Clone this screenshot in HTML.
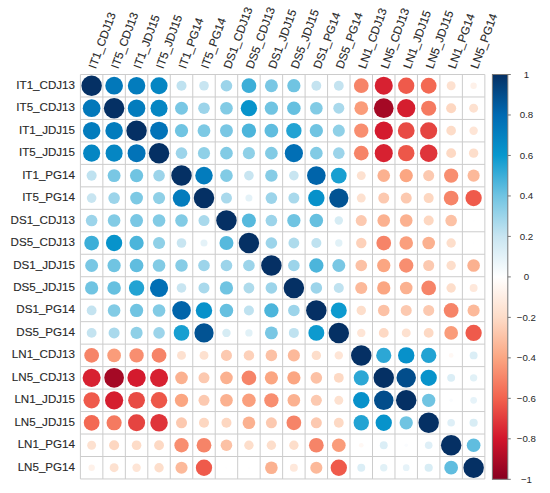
<!DOCTYPE html><html><head><meta charset="utf-8"><style>html,body{margin:0;padding:0;background:#fff;}body{width:550px;height:493px;overflow:hidden;}svg{display:block;}text{font-family:"Liberation Sans",sans-serif;}</style></head><body>
<svg width="550" height="493" viewBox="0 0 550 493">
<rect x="0" y="0" width="550" height="493" fill="#fff"/>
<g stroke="#cccccc" stroke-width="1"><line x1="80.40" y1="74.50" x2="80.40" y2="478.96"/><line x1="80.40" y1="74.50" x2="484.86" y2="74.50"/><line x1="102.87" y1="74.50" x2="102.87" y2="478.96"/><line x1="80.40" y1="96.97" x2="484.86" y2="96.97"/><line x1="125.34" y1="74.50" x2="125.34" y2="478.96"/><line x1="80.40" y1="119.44" x2="484.86" y2="119.44"/><line x1="147.81" y1="74.50" x2="147.81" y2="478.96"/><line x1="80.40" y1="141.91" x2="484.86" y2="141.91"/><line x1="170.28" y1="74.50" x2="170.28" y2="478.96"/><line x1="80.40" y1="164.38" x2="484.86" y2="164.38"/><line x1="192.75" y1="74.50" x2="192.75" y2="478.96"/><line x1="80.40" y1="186.85" x2="484.86" y2="186.85"/><line x1="215.22" y1="74.50" x2="215.22" y2="478.96"/><line x1="80.40" y1="209.32" x2="484.86" y2="209.32"/><line x1="237.69" y1="74.50" x2="237.69" y2="478.96"/><line x1="80.40" y1="231.79" x2="484.86" y2="231.79"/><line x1="260.16" y1="74.50" x2="260.16" y2="478.96"/><line x1="80.40" y1="254.26" x2="484.86" y2="254.26"/><line x1="282.63" y1="74.50" x2="282.63" y2="478.96"/><line x1="80.40" y1="276.73" x2="484.86" y2="276.73"/><line x1="305.10" y1="74.50" x2="305.10" y2="478.96"/><line x1="80.40" y1="299.20" x2="484.86" y2="299.20"/><line x1="327.57" y1="74.50" x2="327.57" y2="478.96"/><line x1="80.40" y1="321.67" x2="484.86" y2="321.67"/><line x1="350.04" y1="74.50" x2="350.04" y2="478.96"/><line x1="80.40" y1="344.14" x2="484.86" y2="344.14"/><line x1="372.51" y1="74.50" x2="372.51" y2="478.96"/><line x1="80.40" y1="366.61" x2="484.86" y2="366.61"/><line x1="394.98" y1="74.50" x2="394.98" y2="478.96"/><line x1="80.40" y1="389.08" x2="484.86" y2="389.08"/><line x1="417.45" y1="74.50" x2="417.45" y2="478.96"/><line x1="80.40" y1="411.55" x2="484.86" y2="411.55"/><line x1="439.92" y1="74.50" x2="439.92" y2="478.96"/><line x1="80.40" y1="434.02" x2="484.86" y2="434.02"/><line x1="462.39" y1="74.50" x2="462.39" y2="478.96"/><line x1="80.40" y1="456.49" x2="484.86" y2="456.49"/><line x1="484.86" y1="74.50" x2="484.86" y2="478.96"/><line x1="80.40" y1="478.96" x2="484.86" y2="478.96"/></g>
<g><circle cx="91.64" cy="85.73" r="10.25" fill="#053064"/><circle cx="114.11" cy="85.73" r="8.87" fill="#0278ba"/><circle cx="136.57" cy="85.73" r="8.76" fill="#037cbd"/><circle cx="159.05" cy="85.73" r="8.52" fill="#0586c3"/><circle cx="181.51" cy="85.73" r="5.02" fill="#bfe2f0"/><circle cx="203.99" cy="85.73" r="4.81" fill="#c8e5f1"/><circle cx="226.46" cy="85.73" r="5.80" fill="#9cd4ea"/><circle cx="248.92" cy="85.73" r="7.37" fill="#3caed8"/><circle cx="271.39" cy="85.73" r="6.47" fill="#79c7e4"/><circle cx="293.87" cy="85.73" r="6.63" fill="#70c4e2"/><circle cx="316.34" cy="85.73" r="4.91" fill="#c4e3f0"/><circle cx="338.80" cy="85.73" r="4.91" fill="#c4e3f0"/><circle cx="361.27" cy="85.73" r="7.37" fill="#f68468"/><circle cx="383.75" cy="85.73" r="9.04" fill="#d72131"/><circle cx="406.22" cy="85.73" r="8.16" fill="#ef5a4b"/><circle cx="428.68" cy="85.73" r="7.90" fill="#f36953"/><circle cx="451.15" cy="85.73" r="4.46" fill="#fde1d0"/><circle cx="473.62" cy="85.73" r="3.19" fill="#fef1e9"/><circle cx="91.64" cy="108.20" r="8.87" fill="#0278ba"/><circle cx="114.11" cy="108.20" r="10.25" fill="#053064"/><circle cx="136.57" cy="108.20" r="8.76" fill="#037cbd"/><circle cx="159.05" cy="108.20" r="8.52" fill="#0586c3"/><circle cx="181.51" cy="108.20" r="6.47" fill="#79c7e4"/><circle cx="203.99" cy="108.20" r="5.80" fill="#9cd4ea"/><circle cx="226.46" cy="108.20" r="6.31" fill="#82cbe5"/><circle cx="248.92" cy="108.20" r="8.16" fill="#0793cb"/><circle cx="271.39" cy="108.20" r="6.63" fill="#70c4e2"/><circle cx="293.87" cy="108.20" r="6.78" fill="#66c0e0"/><circle cx="316.34" cy="108.20" r="6.31" fill="#82cbe5"/><circle cx="338.80" cy="108.20" r="5.52" fill="#a9d9ec"/><circle cx="361.27" cy="108.20" r="6.86" fill="#fa9c7a"/><circle cx="383.75" cy="108.20" r="9.85" fill="#a50925"/><circle cx="406.22" cy="108.20" r="9.10" fill="#d51e2f"/><circle cx="428.68" cy="108.20" r="7.57" fill="#f57a60"/><circle cx="451.15" cy="108.20" r="5.02" fill="#fdd7c1"/><circle cx="473.62" cy="108.20" r="4.46" fill="#fde1d0"/><circle cx="91.64" cy="130.68" r="8.76" fill="#037cbd"/><circle cx="114.11" cy="130.68" r="8.76" fill="#037cbd"/><circle cx="136.57" cy="130.68" r="10.25" fill="#053064"/><circle cx="159.05" cy="130.68" r="8.99" fill="#0273b8"/><circle cx="181.51" cy="130.68" r="6.63" fill="#70c4e2"/><circle cx="203.99" cy="130.68" r="6.39" fill="#7dc9e4"/><circle cx="226.46" cy="130.68" r="6.47" fill="#79c7e4"/><circle cx="248.92" cy="130.68" r="7.15" fill="#4cb5db"/><circle cx="271.39" cy="130.68" r="6.86" fill="#60bddf"/><circle cx="293.87" cy="130.68" r="7.70" fill="#22a3d3"/><circle cx="316.34" cy="130.68" r="6.63" fill="#70c4e2"/><circle cx="338.80" cy="130.68" r="6.06" fill="#8fd0e7"/><circle cx="361.27" cy="130.68" r="7.15" fill="#f88e70"/><circle cx="383.75" cy="130.68" r="9.15" fill="#d41a2e"/><circle cx="406.22" cy="130.68" r="8.40" fill="#e84b44"/><circle cx="428.68" cy="130.68" r="8.52" fill="#e54440"/><circle cx="451.15" cy="130.68" r="4.81" fill="#fddcc8"/><circle cx="473.62" cy="130.68" r="4.21" fill="#fee5d6"/><circle cx="91.64" cy="153.14" r="8.52" fill="#0586c3"/><circle cx="114.11" cy="153.14" r="8.52" fill="#0586c3"/><circle cx="136.57" cy="153.14" r="8.99" fill="#0273b8"/><circle cx="159.05" cy="153.14" r="10.25" fill="#053064"/><circle cx="181.51" cy="153.14" r="5.80" fill="#9cd4ea"/><circle cx="203.99" cy="153.14" r="6.06" fill="#8fd0e7"/><circle cx="226.46" cy="153.14" r="6.31" fill="#82cbe5"/><circle cx="248.92" cy="153.14" r="6.06" fill="#8fd0e7"/><circle cx="271.39" cy="153.14" r="6.31" fill="#82cbe5"/><circle cx="293.87" cy="153.14" r="9.10" fill="#016fb5"/><circle cx="316.34" cy="153.14" r="6.31" fill="#82cbe5"/><circle cx="338.80" cy="153.14" r="5.80" fill="#9cd4ea"/><circle cx="361.27" cy="153.14" r="7.37" fill="#f68468"/><circle cx="383.75" cy="153.14" r="9.04" fill="#d72131"/><circle cx="406.22" cy="153.14" r="8.22" fill="#ed5749"/><circle cx="428.68" cy="153.14" r="8.76" fill="#df343a"/><circle cx="451.15" cy="153.14" r="4.91" fill="#fdd9c4"/><circle cx="473.62" cy="153.14" r="4.69" fill="#fddecb"/><circle cx="91.64" cy="175.62" r="5.02" fill="#bfe2f0"/><circle cx="114.11" cy="175.62" r="6.47" fill="#79c7e4"/><circle cx="136.57" cy="175.62" r="6.63" fill="#70c4e2"/><circle cx="159.05" cy="175.62" r="5.80" fill="#9cd4ea"/><circle cx="181.51" cy="175.62" r="10.25" fill="#053064"/><circle cx="203.99" cy="175.62" r="8.76" fill="#037cbd"/><circle cx="226.46" cy="175.62" r="6.31" fill="#82cbe5"/><circle cx="248.92" cy="175.62" r="4.81" fill="#c8e5f1"/><circle cx="271.39" cy="175.62" r="6.23" fill="#86cce6"/><circle cx="293.87" cy="175.62" r="4.81" fill="#c8e5f1"/><circle cx="316.34" cy="175.62" r="9.32" fill="#0064aa"/><circle cx="338.80" cy="175.62" r="7.84" fill="#189fd1"/><circle cx="361.27" cy="175.62" r="4.46" fill="#fde1d0"/><circle cx="383.75" cy="175.62" r="6.31" fill="#fbb190"/><circle cx="406.22" cy="175.62" r="6.63" fill="#fba682"/><circle cx="428.68" cy="175.62" r="5.52" fill="#fcc9b0"/><circle cx="451.15" cy="175.62" r="7.15" fill="#f88e70"/><circle cx="473.62" cy="175.62" r="6.06" fill="#fcb99a"/><circle cx="91.64" cy="198.08" r="4.81" fill="#c8e5f1"/><circle cx="114.11" cy="198.08" r="5.80" fill="#9cd4ea"/><circle cx="136.57" cy="198.08" r="6.39" fill="#7dc9e4"/><circle cx="159.05" cy="198.08" r="6.06" fill="#8fd0e7"/><circle cx="181.51" cy="198.08" r="8.76" fill="#037cbd"/><circle cx="203.99" cy="198.08" r="10.25" fill="#053064"/><circle cx="226.46" cy="198.08" r="5.52" fill="#a9d9ec"/><circle cx="248.92" cy="198.08" r="3.51" fill="#e4f2f8"/><circle cx="271.39" cy="198.08" r="5.80" fill="#9cd4ea"/><circle cx="293.87" cy="198.08" r="5.52" fill="#a9d9ec"/><circle cx="316.34" cy="198.08" r="8.22" fill="#0791ca"/><circle cx="338.80" cy="198.08" r="9.64" fill="#025393"/><circle cx="361.27" cy="198.08" r="4.46" fill="#fde1d0"/><circle cx="383.75" cy="198.08" r="5.52" fill="#fcc9b0"/><circle cx="406.22" cy="198.08" r="5.52" fill="#fcc9b0"/><circle cx="428.68" cy="198.08" r="5.02" fill="#fdd7c1"/><circle cx="451.15" cy="198.08" r="7.37" fill="#f68468"/><circle cx="473.62" cy="198.08" r="8.16" fill="#ef5a4b"/><circle cx="91.64" cy="220.56" r="5.80" fill="#9cd4ea"/><circle cx="114.11" cy="220.56" r="6.31" fill="#82cbe5"/><circle cx="136.57" cy="220.56" r="6.47" fill="#79c7e4"/><circle cx="159.05" cy="220.56" r="6.31" fill="#82cbe5"/><circle cx="181.51" cy="220.56" r="6.31" fill="#82cbe5"/><circle cx="203.99" cy="220.56" r="5.52" fill="#a9d9ec"/><circle cx="226.46" cy="220.56" r="10.25" fill="#053064"/><circle cx="248.92" cy="220.56" r="7.01" fill="#56b9dd"/><circle cx="271.39" cy="220.56" r="5.80" fill="#9cd4ea"/><circle cx="293.87" cy="220.56" r="6.63" fill="#70c4e2"/><circle cx="316.34" cy="220.56" r="6.78" fill="#66c0e0"/><circle cx="338.80" cy="220.56" r="4.21" fill="#d6ecf4"/><circle cx="361.27" cy="220.56" r="5.52" fill="#fcc9b0"/><circle cx="383.75" cy="220.56" r="6.31" fill="#fbb190"/><circle cx="406.22" cy="220.56" r="6.31" fill="#fbb190"/><circle cx="428.68" cy="220.56" r="5.02" fill="#fdd7c1"/><circle cx="451.15" cy="220.56" r="5.80" fill="#fcc1a5"/><circle cx="473.62" cy="220.56" r="1.10" fill="#fefeff"/><circle cx="91.64" cy="243.02" r="7.37" fill="#3caed8"/><circle cx="114.11" cy="243.02" r="8.16" fill="#0793cb"/><circle cx="136.57" cy="243.02" r="7.15" fill="#4cb5db"/><circle cx="159.05" cy="243.02" r="6.06" fill="#8fd0e7"/><circle cx="181.51" cy="243.02" r="4.81" fill="#c8e5f1"/><circle cx="203.99" cy="243.02" r="3.51" fill="#e4f2f8"/><circle cx="226.46" cy="243.02" r="7.01" fill="#56b9dd"/><circle cx="248.92" cy="243.02" r="10.25" fill="#053064"/><circle cx="271.39" cy="243.02" r="5.80" fill="#9cd4ea"/><circle cx="293.87" cy="243.02" r="5.42" fill="#aedbec"/><circle cx="316.34" cy="243.02" r="5.02" fill="#bfe2f0"/><circle cx="338.80" cy="243.02" r="3.67" fill="#e1f1f7"/><circle cx="361.27" cy="243.02" r="5.23" fill="#fdd1ba"/><circle cx="383.75" cy="243.02" r="7.37" fill="#f68468"/><circle cx="406.22" cy="243.02" r="6.78" fill="#fa9f7d"/><circle cx="428.68" cy="243.02" r="6.31" fill="#fbb190"/><circle cx="451.15" cy="243.02" r="4.69" fill="#fddecb"/><circle cx="473.62" cy="243.02" r="1.10" fill="#fefeff"/><circle cx="91.64" cy="265.50" r="6.47" fill="#79c7e4"/><circle cx="114.11" cy="265.50" r="6.63" fill="#70c4e2"/><circle cx="136.57" cy="265.50" r="6.86" fill="#60bddf"/><circle cx="159.05" cy="265.50" r="6.31" fill="#82cbe5"/><circle cx="181.51" cy="265.50" r="6.23" fill="#86cce6"/><circle cx="203.99" cy="265.50" r="5.80" fill="#9cd4ea"/><circle cx="226.46" cy="265.50" r="5.80" fill="#9cd4ea"/><circle cx="248.92" cy="265.50" r="5.80" fill="#9cd4ea"/><circle cx="271.39" cy="265.50" r="10.25" fill="#053064"/><circle cx="293.87" cy="265.50" r="5.80" fill="#9cd4ea"/><circle cx="316.34" cy="265.50" r="7.15" fill="#4cb5db"/><circle cx="338.80" cy="265.50" r="6.47" fill="#79c7e4"/><circle cx="361.27" cy="265.50" r="5.80" fill="#fcc1a5"/><circle cx="383.75" cy="265.50" r="6.63" fill="#fba682"/><circle cx="406.22" cy="265.50" r="7.15" fill="#f88e70"/><circle cx="428.68" cy="265.50" r="5.52" fill="#fcc9b0"/><circle cx="451.15" cy="265.50" r="4.69" fill="#fddecb"/><circle cx="473.62" cy="265.50" r="6.31" fill="#fbb190"/><circle cx="91.64" cy="287.96" r="6.63" fill="#70c4e2"/><circle cx="114.11" cy="287.96" r="6.78" fill="#66c0e0"/><circle cx="136.57" cy="287.96" r="7.70" fill="#22a3d3"/><circle cx="159.05" cy="287.96" r="9.10" fill="#016fb5"/><circle cx="181.51" cy="287.96" r="4.81" fill="#c8e5f1"/><circle cx="203.99" cy="287.96" r="5.52" fill="#a9d9ec"/><circle cx="226.46" cy="287.96" r="6.63" fill="#70c4e2"/><circle cx="248.92" cy="287.96" r="5.42" fill="#aedbec"/><circle cx="271.39" cy="287.96" r="5.80" fill="#9cd4ea"/><circle cx="293.87" cy="287.96" r="10.25" fill="#053064"/><circle cx="316.34" cy="287.96" r="5.80" fill="#9cd4ea"/><circle cx="338.80" cy="287.96" r="5.02" fill="#bfe2f0"/><circle cx="361.27" cy="287.96" r="6.06" fill="#fcb99a"/><circle cx="383.75" cy="287.96" r="6.63" fill="#fba682"/><circle cx="406.22" cy="287.96" r="6.31" fill="#fbb190"/><circle cx="428.68" cy="287.96" r="7.37" fill="#f68468"/><circle cx="451.15" cy="287.96" r="4.69" fill="#fddecb"/><circle cx="473.62" cy="287.96" r="3.95" fill="#fee8db"/><circle cx="91.64" cy="310.44" r="4.91" fill="#c4e3f0"/><circle cx="114.11" cy="310.44" r="6.31" fill="#82cbe5"/><circle cx="136.57" cy="310.44" r="6.63" fill="#70c4e2"/><circle cx="159.05" cy="310.44" r="6.31" fill="#82cbe5"/><circle cx="181.51" cy="310.44" r="9.32" fill="#0064aa"/><circle cx="203.99" cy="310.44" r="8.22" fill="#0791ca"/><circle cx="226.46" cy="310.44" r="6.78" fill="#66c0e0"/><circle cx="248.92" cy="310.44" r="5.02" fill="#bfe2f0"/><circle cx="271.39" cy="310.44" r="7.15" fill="#4cb5db"/><circle cx="293.87" cy="310.44" r="5.80" fill="#9cd4ea"/><circle cx="316.34" cy="310.44" r="10.25" fill="#053064"/><circle cx="338.80" cy="310.44" r="7.97" fill="#0d9acf"/><circle cx="361.27" cy="310.44" r="4.69" fill="#fddecb"/><circle cx="383.75" cy="310.44" r="5.80" fill="#fcc1a5"/><circle cx="406.22" cy="310.44" r="5.52" fill="#fcc9b0"/><circle cx="428.68" cy="310.44" r="5.52" fill="#fcc9b0"/><circle cx="451.15" cy="310.44" r="7.37" fill="#f68468"/><circle cx="473.62" cy="310.44" r="6.06" fill="#fcb99a"/><circle cx="91.64" cy="332.90" r="4.91" fill="#c4e3f0"/><circle cx="114.11" cy="332.90" r="5.52" fill="#a9d9ec"/><circle cx="136.57" cy="332.90" r="6.06" fill="#8fd0e7"/><circle cx="159.05" cy="332.90" r="5.80" fill="#9cd4ea"/><circle cx="181.51" cy="332.90" r="7.84" fill="#189fd1"/><circle cx="203.99" cy="332.90" r="9.64" fill="#025393"/><circle cx="226.46" cy="332.90" r="4.21" fill="#d6ecf4"/><circle cx="248.92" cy="332.90" r="3.67" fill="#e1f1f7"/><circle cx="271.39" cy="332.90" r="6.47" fill="#79c7e4"/><circle cx="293.87" cy="332.90" r="5.02" fill="#bfe2f0"/><circle cx="316.34" cy="332.90" r="7.97" fill="#0d9acf"/><circle cx="338.80" cy="332.90" r="10.25" fill="#053064"/><circle cx="361.27" cy="332.90" r="4.21" fill="#fee5d6"/><circle cx="383.75" cy="332.90" r="4.91" fill="#fdd9c4"/><circle cx="406.22" cy="332.90" r="4.46" fill="#fde1d0"/><circle cx="428.68" cy="332.90" r="4.91" fill="#fdd9c4"/><circle cx="451.15" cy="332.90" r="6.86" fill="#fa9c7a"/><circle cx="473.62" cy="332.90" r="8.16" fill="#ef5a4b"/><circle cx="91.64" cy="355.38" r="7.37" fill="#f68468"/><circle cx="114.11" cy="355.38" r="6.86" fill="#fa9c7a"/><circle cx="136.57" cy="355.38" r="7.15" fill="#f88e70"/><circle cx="159.05" cy="355.38" r="7.37" fill="#f68468"/><circle cx="181.51" cy="355.38" r="4.46" fill="#fde1d0"/><circle cx="203.99" cy="355.38" r="4.46" fill="#fde1d0"/><circle cx="226.46" cy="355.38" r="5.52" fill="#fcc9b0"/><circle cx="248.92" cy="355.38" r="5.23" fill="#fdd1ba"/><circle cx="271.39" cy="355.38" r="5.80" fill="#fcc1a5"/><circle cx="293.87" cy="355.38" r="6.06" fill="#fcb99a"/><circle cx="316.34" cy="355.38" r="4.69" fill="#fddecb"/><circle cx="338.80" cy="355.38" r="4.21" fill="#fee5d6"/><circle cx="361.27" cy="355.38" r="10.25" fill="#053064"/><circle cx="383.75" cy="355.38" r="7.57" fill="#2ca7d5"/><circle cx="406.22" cy="355.38" r="8.22" fill="#0791ca"/><circle cx="428.68" cy="355.38" r="7.70" fill="#22a3d3"/><circle cx="451.15" cy="355.38" r="2.37" fill="#fff8f4"/><circle cx="473.62" cy="355.38" r="3.95" fill="#dbeef6"/><circle cx="91.64" cy="377.84" r="9.04" fill="#d72131"/><circle cx="114.11" cy="377.84" r="9.85" fill="#a50925"/><circle cx="136.57" cy="377.84" r="9.15" fill="#d41a2e"/><circle cx="159.05" cy="377.84" r="9.04" fill="#d72131"/><circle cx="181.51" cy="377.84" r="6.31" fill="#fbb190"/><circle cx="203.99" cy="377.84" r="5.52" fill="#fcc9b0"/><circle cx="226.46" cy="377.84" r="6.31" fill="#fbb190"/><circle cx="248.92" cy="377.84" r="7.37" fill="#f68468"/><circle cx="271.39" cy="377.84" r="6.63" fill="#fba682"/><circle cx="293.87" cy="377.84" r="6.63" fill="#fba682"/><circle cx="316.34" cy="377.84" r="5.80" fill="#fcc1a5"/><circle cx="338.80" cy="377.84" r="4.91" fill="#fdd9c4"/><circle cx="361.27" cy="377.84" r="7.57" fill="#2ca7d5"/><circle cx="383.75" cy="377.84" r="10.25" fill="#053064"/><circle cx="406.22" cy="377.84" r="9.74" fill="#024d8b"/><circle cx="428.68" cy="377.84" r="8.16" fill="#0793cb"/><circle cx="451.15" cy="377.84" r="3.95" fill="#dbeef6"/><circle cx="473.62" cy="377.84" r="3.67" fill="#e1f1f7"/><circle cx="91.64" cy="400.31" r="8.16" fill="#ef5a4b"/><circle cx="114.11" cy="400.31" r="9.10" fill="#d51e2f"/><circle cx="136.57" cy="400.31" r="8.40" fill="#e84b44"/><circle cx="159.05" cy="400.31" r="8.22" fill="#ed5749"/><circle cx="181.51" cy="400.31" r="6.63" fill="#fba682"/><circle cx="203.99" cy="400.31" r="5.52" fill="#fcc9b0"/><circle cx="226.46" cy="400.31" r="6.31" fill="#fbb190"/><circle cx="248.92" cy="400.31" r="6.78" fill="#fa9f7d"/><circle cx="271.39" cy="400.31" r="7.15" fill="#f88e70"/><circle cx="293.87" cy="400.31" r="6.31" fill="#fbb190"/><circle cx="316.34" cy="400.31" r="5.52" fill="#fcc9b0"/><circle cx="338.80" cy="400.31" r="4.46" fill="#fde1d0"/><circle cx="361.27" cy="400.31" r="8.22" fill="#0791ca"/><circle cx="383.75" cy="400.31" r="9.74" fill="#024d8b"/><circle cx="406.22" cy="400.31" r="10.25" fill="#053064"/><circle cx="428.68" cy="400.31" r="6.63" fill="#70c4e2"/><circle cx="451.15" cy="400.31" r="1.79" fill="#fafcfe"/><circle cx="473.62" cy="400.31" r="3.35" fill="#e6f3f9"/><circle cx="91.64" cy="422.78" r="7.90" fill="#f36953"/><circle cx="114.11" cy="422.78" r="7.57" fill="#f57a60"/><circle cx="136.57" cy="422.78" r="8.52" fill="#e54440"/><circle cx="159.05" cy="422.78" r="8.76" fill="#df343a"/><circle cx="181.51" cy="422.78" r="5.52" fill="#fcc9b0"/><circle cx="203.99" cy="422.78" r="5.02" fill="#fdd7c1"/><circle cx="226.46" cy="422.78" r="5.02" fill="#fdd7c1"/><circle cx="248.92" cy="422.78" r="6.31" fill="#fbb190"/><circle cx="271.39" cy="422.78" r="5.52" fill="#fcc9b0"/><circle cx="293.87" cy="422.78" r="7.37" fill="#f68468"/><circle cx="316.34" cy="422.78" r="5.52" fill="#fcc9b0"/><circle cx="338.80" cy="422.78" r="4.91" fill="#fdd9c4"/><circle cx="361.27" cy="422.78" r="7.70" fill="#22a3d3"/><circle cx="383.75" cy="422.78" r="8.16" fill="#0793cb"/><circle cx="406.22" cy="422.78" r="6.63" fill="#70c4e2"/><circle cx="428.68" cy="422.78" r="10.25" fill="#053064"/><circle cx="451.15" cy="422.78" r="3.81" fill="#deeff7"/><circle cx="473.62" cy="422.78" r="4.09" fill="#d8edf5"/><circle cx="91.64" cy="445.25" r="4.46" fill="#fde1d0"/><circle cx="114.11" cy="445.25" r="5.02" fill="#fdd7c1"/><circle cx="136.57" cy="445.25" r="4.81" fill="#fddcc8"/><circle cx="159.05" cy="445.25" r="4.91" fill="#fdd9c4"/><circle cx="181.51" cy="445.25" r="7.15" fill="#f88e70"/><circle cx="203.99" cy="445.25" r="7.37" fill="#f68468"/><circle cx="226.46" cy="445.25" r="5.80" fill="#fcc1a5"/><circle cx="248.92" cy="445.25" r="4.69" fill="#fddecb"/><circle cx="271.39" cy="445.25" r="4.69" fill="#fddecb"/><circle cx="293.87" cy="445.25" r="4.69" fill="#fddecb"/><circle cx="316.34" cy="445.25" r="7.37" fill="#f68468"/><circle cx="338.80" cy="445.25" r="6.86" fill="#fa9c7a"/><circle cx="361.27" cy="445.25" r="2.37" fill="#fff8f4"/><circle cx="383.75" cy="445.25" r="3.95" fill="#dbeef6"/><circle cx="406.22" cy="445.25" r="1.79" fill="#fafcfe"/><circle cx="428.68" cy="445.25" r="3.81" fill="#deeff7"/><circle cx="451.15" cy="445.25" r="10.25" fill="#053064"/><circle cx="473.62" cy="445.25" r="6.86" fill="#60bddf"/><circle cx="91.64" cy="467.72" r="3.19" fill="#fef1e9"/><circle cx="114.11" cy="467.72" r="4.46" fill="#fde1d0"/><circle cx="136.57" cy="467.72" r="4.21" fill="#fee5d6"/><circle cx="159.05" cy="467.72" r="4.69" fill="#fddecb"/><circle cx="181.51" cy="467.72" r="6.06" fill="#fcb99a"/><circle cx="203.99" cy="467.72" r="8.16" fill="#ef5a4b"/><circle cx="226.46" cy="467.72" r="1.10" fill="#fefeff"/><circle cx="248.92" cy="467.72" r="1.10" fill="#fefeff"/><circle cx="271.39" cy="467.72" r="6.31" fill="#fbb190"/><circle cx="293.87" cy="467.72" r="3.95" fill="#fee8db"/><circle cx="316.34" cy="467.72" r="6.06" fill="#fcb99a"/><circle cx="338.80" cy="467.72" r="8.16" fill="#ef5a4b"/><circle cx="361.27" cy="467.72" r="3.95" fill="#dbeef6"/><circle cx="383.75" cy="467.72" r="3.67" fill="#e1f1f7"/><circle cx="406.22" cy="467.72" r="3.35" fill="#e6f3f9"/><circle cx="428.68" cy="467.72" r="4.09" fill="#d8edf5"/><circle cx="451.15" cy="467.72" r="6.86" fill="#60bddf"/><circle cx="473.62" cy="467.72" r="10.25" fill="#053064"/></g>
<g font-size="11.6" fill="#282828" stroke="#282828" stroke-width="0.12" letter-spacing="0"><text x="75" y="88.73" text-anchor="end">IT1_CDJ13</text><text x="75" y="111.20" text-anchor="end">IT5_CDJ13</text><text x="75" y="133.68" text-anchor="end">IT1_JDJ15</text><text x="75" y="156.14" text-anchor="end">IT5_JDJ15</text><text x="75" y="178.62" text-anchor="end">IT1_PG14</text><text x="75" y="201.08" text-anchor="end">IT5_PG14</text><text x="75" y="223.56" text-anchor="end">DS1_CDJ13</text><text x="75" y="246.02" text-anchor="end">DS5_CDJ13</text><text x="75" y="268.50" text-anchor="end">DS1_JDJ15</text><text x="75" y="290.96" text-anchor="end">DS5_JDJ15</text><text x="75" y="313.44" text-anchor="end">DS1_PG14</text><text x="75" y="335.90" text-anchor="end">DS5_PG14</text><text x="75" y="358.38" text-anchor="end">LN1_CDJ13</text><text x="75" y="380.84" text-anchor="end">LN5_CDJ13</text><text x="75" y="403.31" text-anchor="end">LN1_JDJ15</text><text x="75" y="425.78" text-anchor="end">LN5_JDJ15</text><text x="75" y="448.25" text-anchor="end">LN1_PG14</text><text x="75" y="470.72" text-anchor="end">LN5_PG14</text><text transform="translate(95.84,69.40) rotate(-70)" x="0" y="0">IT1_CDJ13</text><text transform="translate(118.31,69.40) rotate(-70)" x="0" y="0">IT5_CDJ13</text><text transform="translate(140.77,69.40) rotate(-70)" x="0" y="0">IT1_JDJ15</text><text transform="translate(163.25,69.40) rotate(-70)" x="0" y="0">IT5_JDJ15</text><text transform="translate(185.71,69.40) rotate(-70)" x="0" y="0">IT1_PG14</text><text transform="translate(208.19,69.40) rotate(-70)" x="0" y="0">IT5_PG14</text><text transform="translate(230.66,69.40) rotate(-70)" x="0" y="0">DS1_CDJ13</text><text transform="translate(253.12,69.40) rotate(-70)" x="0" y="0">DS5_CDJ13</text><text transform="translate(275.59,69.40) rotate(-70)" x="0" y="0">DS1_JDJ15</text><text transform="translate(298.06,69.40) rotate(-70)" x="0" y="0">DS5_JDJ15</text><text transform="translate(320.54,69.40) rotate(-70)" x="0" y="0">DS1_PG14</text><text transform="translate(343.00,69.40) rotate(-70)" x="0" y="0">DS5_PG14</text><text transform="translate(365.47,69.40) rotate(-70)" x="0" y="0">LN1_CDJ13</text><text transform="translate(387.94,69.40) rotate(-70)" x="0" y="0">LN5_CDJ13</text><text transform="translate(410.42,69.40) rotate(-70)" x="0" y="0">LN1_JDJ15</text><text transform="translate(432.88,69.40) rotate(-70)" x="0" y="0">LN5_JDJ15</text><text transform="translate(455.35,69.40) rotate(-70)" x="0" y="0">LN1_PG14</text><text transform="translate(477.82,69.40) rotate(-70)" x="0" y="0">LN5_PG14</text></g>
<defs><linearGradient id="cbg" x1="0" y1="0" x2="0" y2="1"><stop offset="0.0000" stop-color="#053064"/><stop offset="0.1000" stop-color="#006ab2"/><stop offset="0.2000" stop-color="#0898ce"/><stop offset="0.3000" stop-color="#70c4e2"/><stop offset="0.4000" stop-color="#c8e5f1"/><stop offset="0.5000" stop-color="#ffffff"/><stop offset="0.6000" stop-color="#fddcc8"/><stop offset="0.7000" stop-color="#fba682"/><stop offset="0.8000" stop-color="#f2624e"/><stop offset="0.9000" stop-color="#d2162c"/><stop offset="1.0000" stop-color="#870020"/></linearGradient></defs>
<rect x="492.4" y="74.5" width="15.400000000000034" height="404.8" fill="url(#cbg)" stroke="#777777" stroke-width="1"/>
<g stroke="#777777" stroke-width="1"><line x1="507.8" y1="74.50" x2="510.8" y2="74.50"/><line x1="507.8" y1="114.98" x2="510.8" y2="114.98"/><line x1="507.8" y1="155.46" x2="510.8" y2="155.46"/><line x1="507.8" y1="195.94" x2="510.8" y2="195.94"/><line x1="507.8" y1="236.42" x2="510.8" y2="236.42"/><line x1="507.8" y1="276.90" x2="510.8" y2="276.90"/><line x1="507.8" y1="317.38" x2="510.8" y2="317.38"/><line x1="507.8" y1="357.86" x2="510.8" y2="357.86"/><line x1="507.8" y1="398.34" x2="510.8" y2="398.34"/><line x1="507.8" y1="438.82" x2="510.8" y2="438.82"/><line x1="507.8" y1="479.30" x2="510.8" y2="479.30"/></g>
<g font-size="9.7" fill="#282828"><text x="526.4" y="78.00" text-anchor="middle">1</text><text x="526.4" y="118.48" text-anchor="middle">0.8</text><text x="526.4" y="158.96" text-anchor="middle">0.6</text><text x="526.4" y="199.44" text-anchor="middle">0.4</text><text x="526.4" y="239.92" text-anchor="middle">0.2</text><text x="526.4" y="280.40" text-anchor="middle">0</text><text x="526.4" y="320.88" text-anchor="middle">−0.2</text><text x="526.4" y="361.36" text-anchor="middle">−0.4</text><text x="526.4" y="401.84" text-anchor="middle">−0.6</text><text x="526.4" y="442.32" text-anchor="middle">−0.8</text><text x="526.4" y="482.80" text-anchor="middle">−1</text></g>
</svg></body></html>
